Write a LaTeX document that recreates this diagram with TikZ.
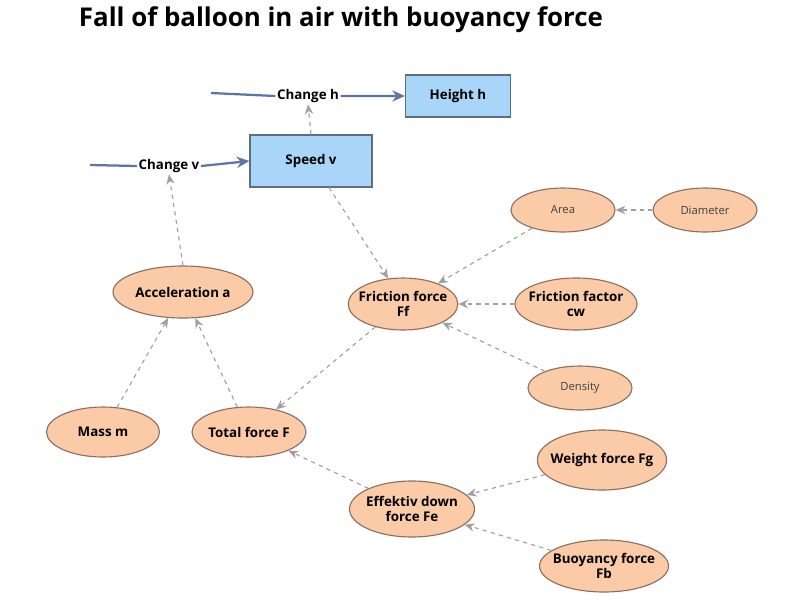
\documentclass[tikz,border=0pt]{standalone}
\usepackage{fontspec}
\setmainfont{Open Sans}
\usepackage{tikz}
\usetikzlibrary{arrows.meta,shapes.geometric,positioning,calc}

\definecolor{peach}{HTML}{FBCBA8}
\definecolor{peachline}{HTML}{8A7060}
\definecolor{stockblue}{HTML}{A8D5F8}
\definecolor{stockline}{HTML}{5E6E80}
\definecolor{flowblue}{HTML}{5C74A8}
\definecolor{linkgray}{HTML}{A0A0A0}

\begin{document}
\begin{tikzpicture}[x=0.025cm,y=-0.025cm,
    aux/.style={ellipse,draw=peachline,fill=peach,thick,inner ysep=0pt,inner xsep=-4pt,
      align=center,font=\fontsize{9.5}{11}\selectfont\bfseries},
    param/.style={aux,font=\fontsize{8}{10}\selectfont,text=black!75},
    stock/.style={rectangle,draw=stockline,fill=stockblue,thick,
      font=\fontsize{9.5}{11}\selectfont\bfseries},
    flow/.style={draw=flowblue,line width=1.6pt,-{Stealth[length=9pt,width=8pt]}},
    link/.style={draw=linkgray,thick,dashed,-{Stealth[length=7pt,width=6pt]}}]
    \useasboundingbox (0,0) rectangle (800,600);

    \node[font=\fontsize{18.4}{20}\selectfont\bfseries] (title) at (341,20)
      {Fall of balloon in air with buoyancy force};

    % stocks and flows
    \node[stock,minimum width=105*0.025cm,minimum height=42*0.025cm] (height) at (458,96) {Height h};
    \node[stock,minimum width=122*0.025cm,minimum height=52*0.025cm] (speed) at (311,161) {Speed v};
    \node[font=\fontsize{9.5}{11}\selectfont\bfseries,inner sep=1pt] (changeh) at (308,96) {Change h};
    \node[font=\fontsize{9.5}{11}\selectfont\bfseries,inner sep=1pt] (changev) at (169,166) {Change v};
    \coordinate (hsrc) at (211,93);
    \coordinate (vsrc) at (90,165);
    \draw[flow] (hsrc) -- (changeh.west) (changeh.east) -- (height.west);
    \draw[flow] (vsrc) -- (changev.west) (changev.east) -- (speed.west);

    % auxiliaries
    \node[aux,minimum width=140*0.025cm,minimum height=52*0.025cm] (accel) at (183,292) {Acceleration a};
    \node[aux,minimum width=113*0.025cm,minimum height=50*0.025cm] (mass) at (103,432) {Mass m};
    \node[aux,minimum width=114*0.025cm,minimum height=50*0.025cm] (total) at (249,432) {Total force F};
    \node[aux,minimum width=108*0.025cm,minimum height=52*0.025cm] (friction) at (403,304) {Friction force\\Ff};
    \node[param,minimum width=104*0.025cm,minimum height=44*0.025cm] (area) at (563,210) {Area};
    \node[param,minimum width=104*0.025cm,minimum height=44*0.025cm] (diameter) at (705,210) {Diameter};
    \node[aux,minimum width=122*0.025cm,minimum height=52*0.025cm] (cw) at (576,304) {Friction factor\\cw};
    \node[param,minimum width=104*0.025cm,minimum height=44*0.025cm] (density) at (580,388) {Density};
    \node[aux,minimum width=121*0.025cm,minimum height=60*0.025cm] (weight) at (602,460) {Weight force Fg};
    \node[aux,minimum width=125*0.025cm,minimum height=56*0.025cm] (effektiv) at (412,509) {Effektiv down\\force Fe};
    \node[aux,minimum width=129*0.025cm,minimum height=52*0.025cm] (buoyancy) at (604,566) {Buoyancy force\\Fb};

    % links
    \draw[link] (speed.north) -- (changeh.south);
    \draw[link] (accel.north) -- (changev.south);
    \draw[link] (speed.south) ++(18,0) -- (friction.120);
    \draw[link] (area) -- (friction);
    \draw[link] (diameter) -- (area);
    \draw[link] (cw) -- (friction);
    \draw[link] (density) -- (friction);
    \draw[link] (friction) -- (total);
    \draw[link] (mass) -- (accel);
    \draw[link] (total) -- (accel);
    \draw[link] (effektiv) -- (total);
    \draw[link] (weight) -- (effektiv);
    \draw[link] (buoyancy) -- (effektiv);
  \end{tikzpicture}
\end{document}
